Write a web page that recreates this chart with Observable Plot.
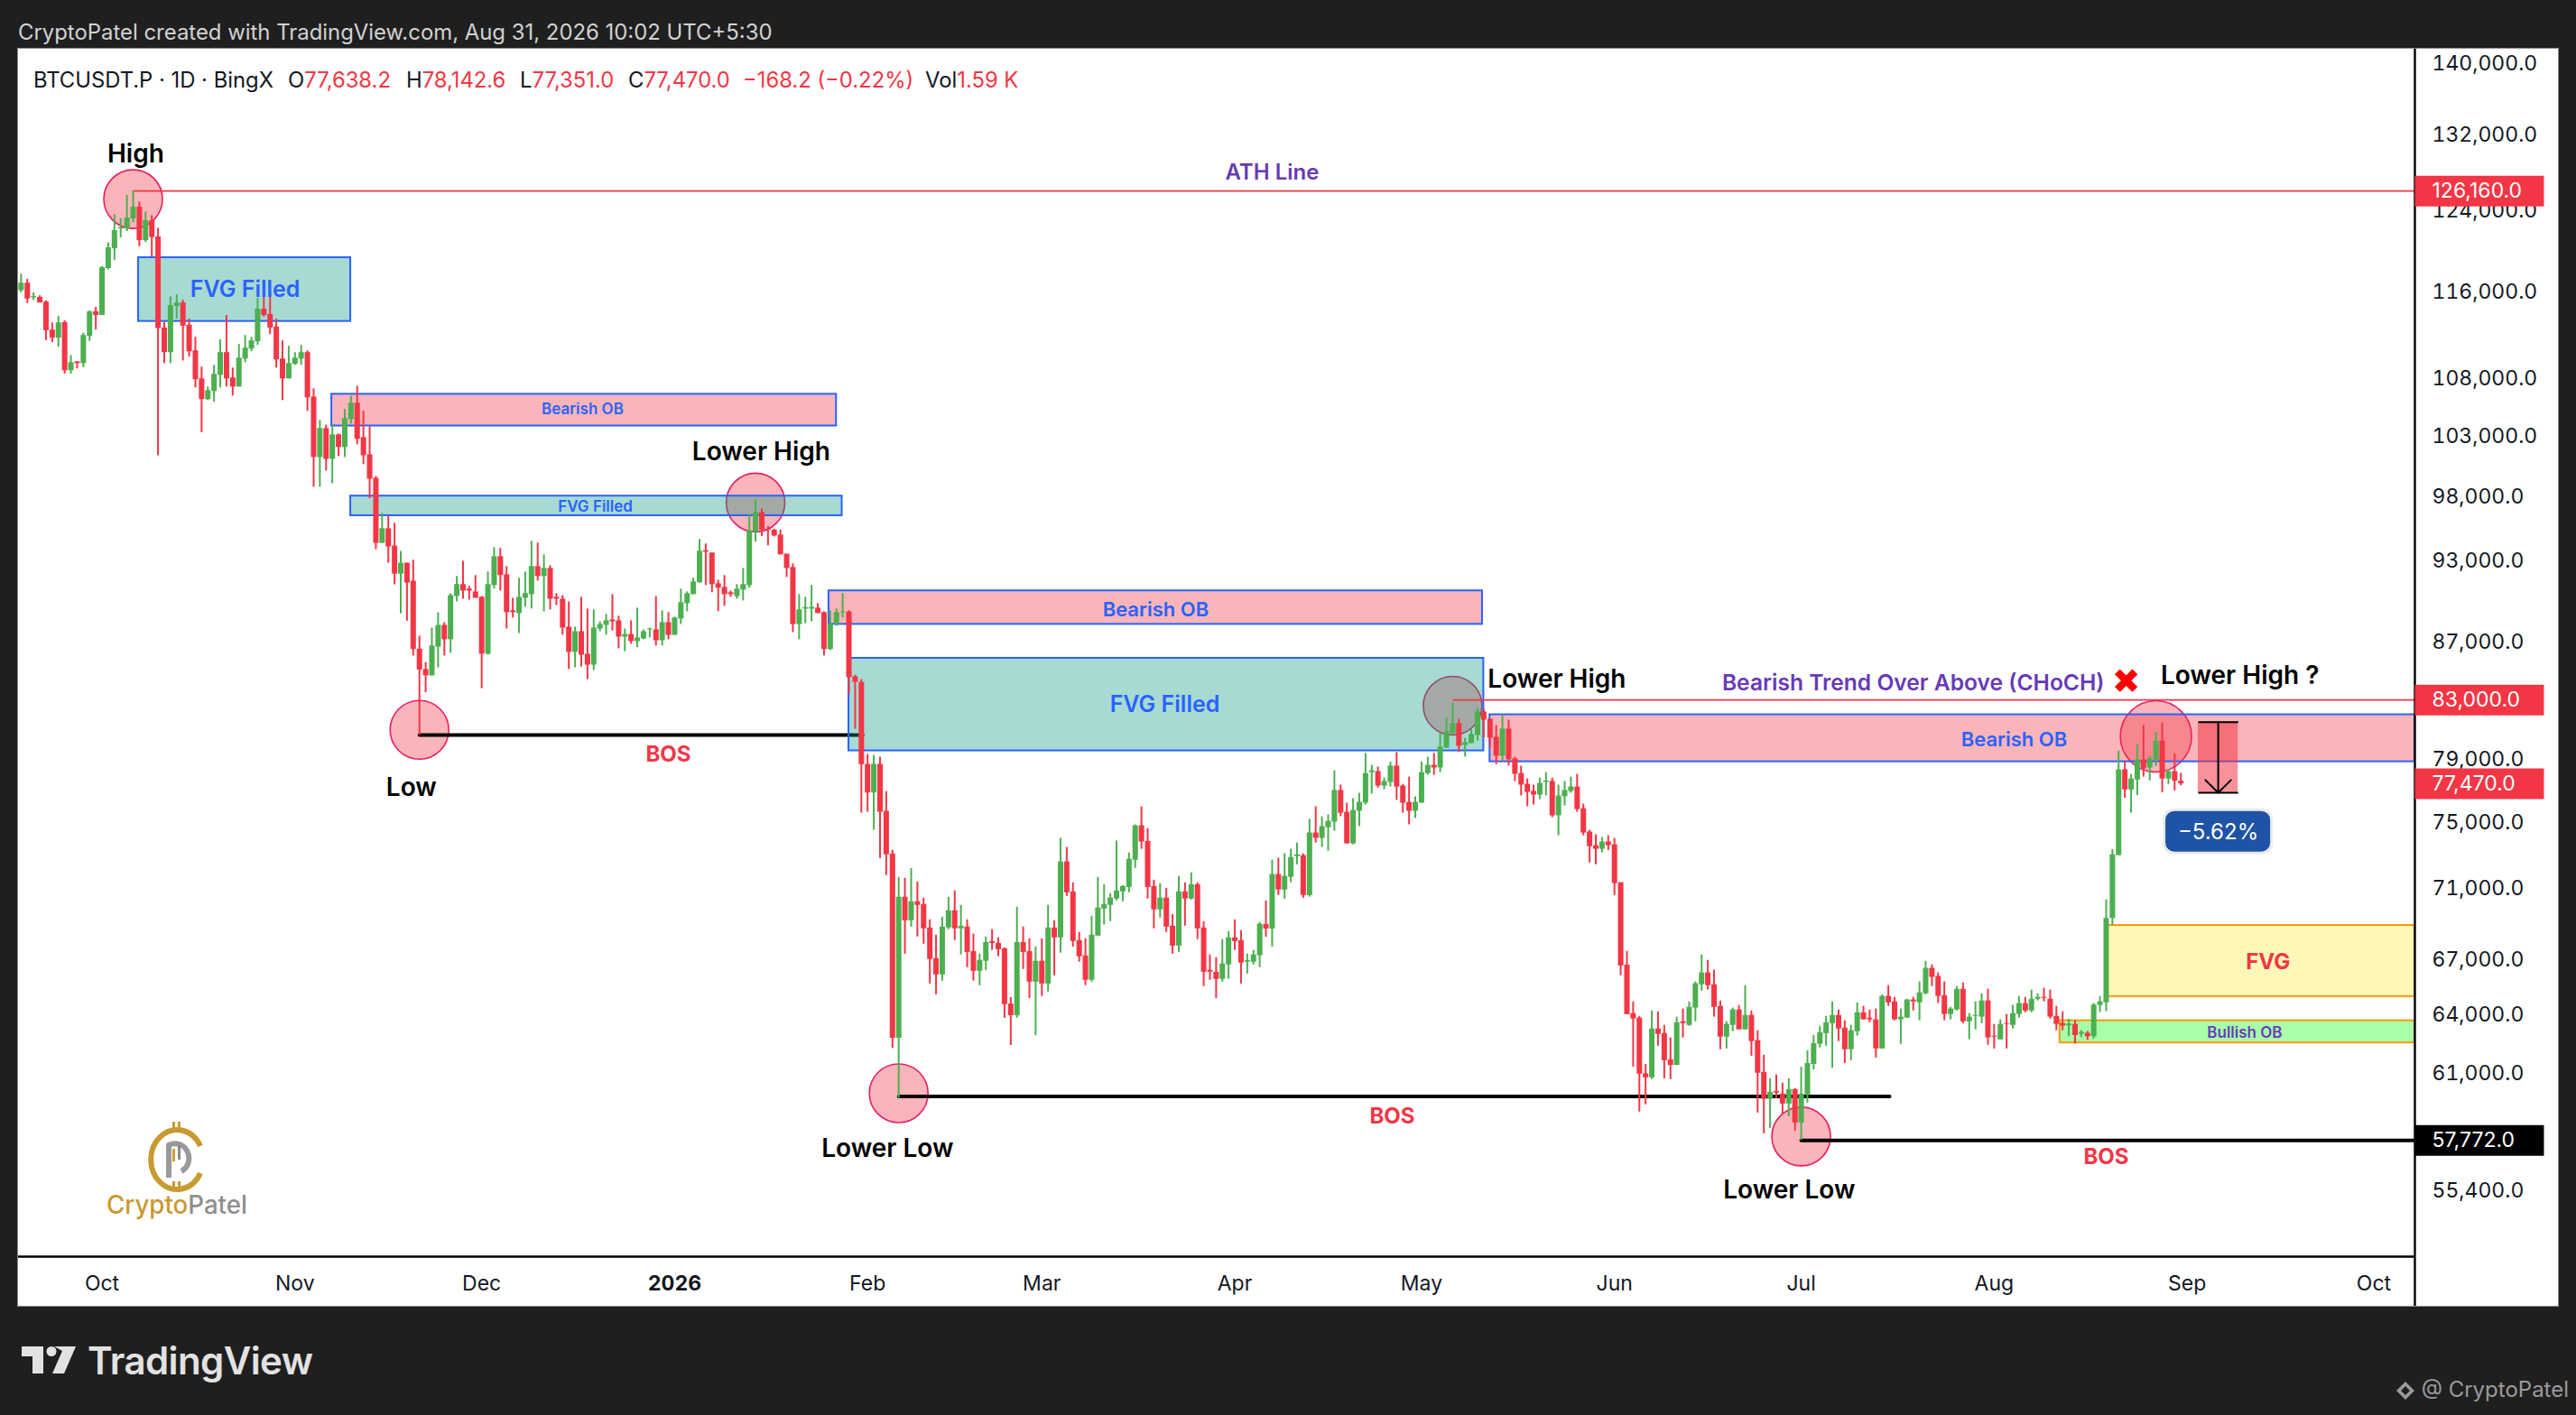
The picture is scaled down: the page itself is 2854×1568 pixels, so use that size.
<!DOCTYPE html>
<html><head><meta charset="utf-8">
<script src="https://cdn.jsdelivr.net/npm/d3@7"></script>
<script src="https://cdn.jsdelivr.net/npm/@observablehq/plot@0.6"></script>
<style>
html,body{margin:0;padding:0;background:#1f1f1f;}
body{width:2854px;height:1568px;position:relative;overflow:hidden;font-family:Inter,"Liberation Sans",sans-serif;}
#head{position:absolute;left:20px;top:21px;font-size:23.9px;line-height:30px;color:#d2d2d2;white-space:nowrap;}
#panel{position:absolute;left:20px;top:54px;width:2814px;height:1393px;background:#fff;box-shadow:0 0 0 1px #8c8c8c;}
#panel svg{display:block;}
.lg{position:absolute;top:21px;font-size:23.8px;line-height:28px;white-space:nowrap;color:#131722;}
.lg b{font-weight:400;color:#f23645;}
#mark{position:absolute;left:95px;top:1189px;}
#tv{position:absolute;left:24px;top:1485px;}
#tvt{position:absolute;left:97px;top:1483px;font-size:42px;line-height:50px;font-weight:600;color:#e2e2e2;letter-spacing:-.6px;}
#by{position:absolute;left:2654px;top:1525px;font-size:24px;line-height:30px;color:#9b9b9b;white-space:nowrap;}
</style></head><body>
<div id="head">CryptoPatel created with TradingView.com, Aug 31, 2026 10:02 UTC+5:30</div>
<div id="panel"></div>
<svg id="tv" width="62" height="42" viewBox="0 0 62 42"><path d="M0 7H24V37H12V18H0Z M36 7L51 7 60 7 47 37H34L45 12Z" fill="#e2e2e2"/><circle cx="33" cy="12.500" r="5.500" fill="#e2e2e2"/></svg>
<div id="tvt">TradingView</div>
<div id="by"><svg width="22" height="22" viewBox="0 0 22 22" style="vertical-align:-4px"><path d="M11 1L21 11 11 21 1 11Z M11 6L6 11 11 16 16 11Z" fill="#9b9b9b" fill-rule="evenodd"/></svg> @ CryptoPatel</div>
<script>
// Daily candles, BTCUSDT.P, in thousands of USD, first candle 18 Sep 2025, last 31 Aug 2026
const opens=[116.23,116.95,115.56,115.59,115.15,112.53,111.78,113.23,108.83,109.63,
109.47,111.95,114.23,113.89,118.37,120.32,122.30,122.30,123.30,124.50,
121.12,123.12,121.49,112.72,110.46,114.73,115.07,112.98,110.62,108.10,
106.27,106.98,108.42,110.46,108.18,107.38,109.88,110.79,111.45,114.48,
113.98,112.81,109.88,108.10,109.39,109.88,110.46,106.50,101.33,103.77,
101.18,103.23,102.17,104.54,105.96,103.00,101.55,99.61,94.42,95.56,
94.21,92.06,92.89,91.52,86.55,85.11,84.67,86.70,88.26,87.22,
90.38,91.27,90.93,90.72,90.32,86.19,91.20,93.39,92.01,89.32,
89.12,90.25,90.52,92.63,91.88,92.49,90.32,90.18,88.13,86.32,
87.80,86.19,85.42,87.99,88.26,88.65,88.59,87.41,87.60,87.09,
87.28,87.93,87.93,87.15,88.46,87.54,88.72,89.85,90.52,91.40,
93.86,93.67,91.33,91.06,90.66,90.38,90.86,91.20,95.27,96.85,
95.52,95.45,95.07,93.58,92.56,88.32,89.45,89.45,89.52,89.19,
86.53,88.32,89.19,89.23,84.60,84.22,78.72,76.89,78.72,75.74,
73.13,62.84,70.57,69.22,70.31,70.15,68.81,67.10,66.20,68.81,
69.79,68.76,68.86,67.49,66.40,66.95,68.04,67.94,67.64,64.64,
64.02,67.99,67.49,65.81,66.95,65.71,68.81,68.25,72.65,70.88,
68.10,67.25,65.91,68.35,69.89,70.10,70.47,70.88,71.14,72.75,
74.84,73.89,71.20,69.84,70.52,68.91,67.79,70.88,70.47,71.30,
68.81,66.45,66.35,65.96,66.75,68.25,68.10,66.90,66.90,67.25,
69.01,68.75,71.90,70.99,71.74,72.97,73.03,70.67,74.40,74.07,
74.73,75.07,77.05,75.68,73.74,75.74,76.25,78.19,78.25,77.33,
77.56,78.61,77.33,76.30,75.74,76.25,78.13,78.66,78.49,79.78,
80.74,81.40,79.96,80.08,80.62,82.19,81.70,80.50,79.25,81.04,
79.08,78.13,77.44,76.99,76.76,77.57,77.62,75.46,76.65,76.99,
77.27,75.90,74.46,73.63,73.41,73.85,73.68,71.42,66.74,64.13,
63.89,61.03,60.83,63.32,63.09,61.73,61.45,63.70,63.51,64.42,
65.67,66.31,65.67,64.51,62.90,63.51,64.32,63.28,64.03,62.72,
61.10,59.76,60.15,60.02,59.53,60.24,58.61,59.98,61.50,62.53,
63.08,63.60,64.03,63.37,62.25,63.18,64.17,63.89,63.80,62.29,
65.04,64.75,63.80,63.89,64.85,64.70,65.18,66.56,66.12,65.08,
64.08,64.32,65.42,63.70,63.98,63.94,64.80,62.95,62.76,63.60,
63.51,64.08,64.66,64.27,64.89,64.99,64.89,63.98,63.61,63.48,
63.56,63.05,63.10,62.92,64.56,64.70,69.35,73.03,78.37,77.08,
77.72,79.01,78.49,79.01,80.24,77.78,78.25,77.638];
const highs=[117.81,117.33,116.03,115.76,115.26,113.20,113.81,113.39,110.19,109.63,
112.25,114.31,114.65,118.55,120.91,123.73,123.33,125.71,126.16,125.02,
124.00,123.63,122.36,113.25,115.65,115.85,115.32,113.54,111.86,109.15,
107.38,109.31,111.62,113.89,109.07,111.20,112.03,111.86,115.49,116.25,
116.03,113.54,111.53,111.04,110.46,111.12,110.62,107.22,104.46,104.07,
104.07,103.31,105.41,106.58,107.45,105.25,103.92,99.76,96.77,96.55,
95.99,93.79,92.89,93.12,87.48,85.59,88.06,89.17,88.46,90.59,
91.88,93.04,91.13,91.95,90.38,92.22,94.09,94.02,92.63,90.25,
91.74,92.22,94.58,94.44,93.53,92.70,90.59,90.45,89.98,88.13,
90.32,89.45,89.39,88.52,89.05,90.52,88.92,87.99,88.59,89.52,
87.93,88.06,90.38,89.32,89.19,88.86,90.93,90.72,91.74,94.72,
94.37,93.67,91.60,91.95,90.79,91.27,92.49,96.71,97.86,97.13,
95.74,95.52,95.45,93.58,92.84,90.52,90.32,91.20,89.85,89.25,
89.32,89.45,90.59,89.32,84.71,84.40,79.37,79.31,79.19,76.98,
73.35,71.73,71.68,72.26,71.46,70.52,69.27,68.40,69.42,70.57,
70.94,70.10,69.27,68.46,67.35,68.30,68.71,68.25,67.69,64.98,
69.99,68.86,68.20,67.74,68.20,70.10,69.22,74.07,73.52,71.41,
68.56,68.20,69.48,71.73,71.30,70.78,73.91,71.25,73.19,74.90,
76.02,74.67,71.57,71.36,71.09,69.58,71.79,71.41,72.00,71.41,
69.17,67.30,67.15,68.15,68.61,69.27,68.66,67.35,67.55,69.12,
70.36,72.76,72.87,73.14,73.41,73.79,73.14,75.24,76.02,75.40,
75.52,78.31,77.39,76.25,76.53,76.87,79.43,78.66,78.55,77.84,
78.87,79.49,77.44,77.90,76.65,78.87,79.19,79.43,80.74,81.76,
82.80,81.70,80.44,81.04,82.43,82.37,81.70,81.28,82.00,81.64,
79.19,78.61,77.79,77.39,77.84,78.19,77.84,77.39,77.62,77.90,
78.08,76.19,74.57,74.29,74.12,74.23,74.07,71.42,67.49,64.75,
63.98,61.50,64.27,64.22,63.51,62.86,63.94,64.37,64.75,65.82,
67.30,67.00,66.46,64.80,63.70,64.42,64.56,65.62,64.27,63.23,
61.97,60.78,60.97,60.56,60.78,60.29,61.36,62.20,62.99,63.46,
63.98,64.75,64.32,63.75,63.51,64.70,64.51,64.32,64.37,65.13,
65.62,64.99,64.37,64.89,64.99,65.82,66.95,66.75,66.31,65.82,
64.46,65.57,65.77,64.13,64.75,65.18,65.43,63.56,63.80,64.08,
64.56,65.04,64.99,65.38,65.18,65.48,65.38,64.51,64.23,63.83,
63.75,63.24,63.20,64.66,65.03,70.42,73.40,79.59,78.89,78.07,
80.00,81.28,79.24,80.82,81.46,78.37,79.41,78.1426];
const lows=[116.03,115.01,115.29,115.07,111.56,111.37,110.95,108.53,108.53,108.99,
109.10,111.48,112.53,113.89,118.23,119.17,121.40,122.03,122.93,120.53,
120.94,119.52,101.48,109.47,109.47,113.56,109.71,110.05,107.30,103.41,
106.19,106.04,107.30,107.38,106.58,107.38,109.55,110.54,111.12,113.73,
112.11,109.07,106.19,108.10,109.31,109.31,105.25,98.88,98.88,100.21,
99.17,101.41,101.33,104.15,102.39,100.73,97.95,93.93,94.42,92.89,
91.25,89.10,88.57,86.06,80.64,83.50,84.65,85.23,86.06,86.25,
89.98,90.18,90.11,90.25,83.78,86.12,90.93,90.79,87.99,88.79,
87.67,89.59,89.45,91.54,89.25,89.39,89.72,87.54,85.11,85.23,
85.29,84.41,85.04,87.80,87.54,87.86,86.57,86.37,86.90,86.64,
87.22,87.35,86.77,86.77,87.22,87.54,88.32,89.25,90.52,91.40,
91.20,90.66,89.25,89.65,90.32,90.18,90.05,91.00,94.51,94.96,
94.23,94.92,93.53,91.81,87.73,87.22,88.39,88.52,89.12,86.06,
86.45,88.19,88.79,83.37,81.03,75.62,75.68,74.57,72.86,71.84,
62.33,59.82,67.34,68.86,68.30,67.90,65.71,65.13,65.86,68.71,
68.10,67.30,66.60,65.86,65.62,66.45,67.55,67.20,63.88,62.47,
63.88,66.50,64.93,62.98,65.04,65.28,66.15,67.40,70.62,67.74,
66.90,65.62,65.81,68.35,68.97,69.17,70.36,70.31,70.83,72.27,
73.41,70.47,68.76,69.37,68.56,67.34,67.44,68.91,70.41,68.15,
65.57,65.91,64.93,65.81,65.96,67.55,65.71,66.25,66.75,66.60,
68.29,67.74,70.67,70.46,71.42,72.48,70.51,70.57,73.79,73.52,
73.30,74.51,75.40,73.74,73.68,74.79,76.13,76.82,77.20,77.10,
77.27,76.42,75.62,74.90,75.30,76.25,78.02,78.02,78.19,79.78,
80.66,79.49,79.19,80.08,80.26,80.44,79.78,78.70,78.90,78.61,
77.61,76.70,76.02,76.13,76.47,76.70,75.35,74.23,76.07,76.87,
75.68,74.23,72.59,72.48,73.19,73.34,70.67,66.16,64.07,61.36,
59.14,59.49,60.74,62.43,60.78,60.74,61.45,62.86,63.46,63.70,
65.32,65.38,63.94,62.25,62.29,63.18,63.28,63.28,61.92,59.09,
58.09,58.35,59.80,59.00,58.91,58.22,57.77,59.58,61.22,62.34,
62.43,61.31,62.67,61.55,61.69,62.95,63.80,63.65,61.83,62.29,
64.51,63.75,62.53,63.89,64.27,63.75,65.13,65.57,64.66,63.75,
63.80,64.27,63.60,62.76,63.28,63.60,62.48,62.29,62.76,62.29,
63.32,63.89,64.17,64.17,64.80,64.75,63.84,63.23,63.24,62.92,
62.54,62.87,62.73,62.80,64.18,64.23,68.95,73.03,76.56,75.62,
76.73,77.90,77.66,78.60,76.90,77.43,77.02,77.351];
const closes=[116.95,115.44,115.68,115.07,112.47,111.78,113.20,108.83,109.55,109.47,
112.03,114.23,113.89,118.46,120.41,122.12,122.42,123.38,124.50,121.12,
123.12,121.43,112.67,110.46,114.81,115.07,112.89,110.54,108.02,106.27,
107.06,108.50,110.46,108.10,107.38,109.96,110.87,111.53,114.48,113.89,
112.72,109.80,108.10,109.47,109.96,110.46,106.43,101.33,103.77,101.18,
103.23,102.17,104.62,105.96,102.85,101.48,99.54,94.42,95.56,94.14,
92.06,92.89,91.38,86.53,85.07,84.67,86.77,88.26,87.22,90.45,
91.27,90.79,90.79,90.25,86.19,91.27,93.39,91.95,89.19,89.19,
90.32,90.59,92.63,91.88,92.49,90.18,90.18,88.06,86.32,87.80,
86.12,85.42,88.06,88.32,88.59,88.52,87.41,87.60,87.09,87.35,
87.80,87.99,87.15,88.46,87.54,88.79,89.92,90.59,91.47,93.81,
93.74,91.27,91.00,90.52,90.52,90.93,91.27,95.40,96.85,95.45,
95.45,95.00,93.53,92.49,88.32,89.39,89.56,89.58,89.12,86.53,
88.32,89.19,89.25,84.54,84.22,78.70,76.89,78.72,75.68,73.08,
62.84,70.57,69.22,70.31,70.10,68.76,67.05,66.20,68.86,69.79,
68.76,68.91,67.44,66.40,67.00,67.99,67.94,67.59,64.60,64.02,
67.99,67.44,65.81,66.95,65.71,68.81,68.25,72.65,70.83,68.05,
67.20,65.91,68.40,69.95,70.15,70.52,70.94,71.20,72.81,74.84,
73.85,71.14,69.84,70.52,68.86,67.79,70.88,70.47,71.30,68.76,
66.35,66.35,65.96,66.80,68.25,68.05,66.85,66.98,67.30,69.02,
68.75,71.90,70.99,71.79,72.92,73.08,70.67,74.40,74.07,74.79,
75.11,77.05,75.62,73.74,75.79,76.30,78.13,78.31,77.33,77.62,
78.61,77.27,76.25,75.74,76.30,78.19,78.66,78.49,79.84,80.86,
81.40,79.90,80.14,80.68,82.19,81.64,80.44,79.25,81.04,79.02,
78.08,77.39,76.93,76.76,77.50,77.65,75.46,76.70,77.05,77.27,
75.85,74.40,73.57,73.41,73.85,73.63,71.37,66.69,64.07,63.84,
61.01,60.83,63.32,63.04,61.69,61.45,63.65,63.60,64.46,65.72,
66.31,65.62,64.46,62.90,63.56,64.32,63.28,64.03,62.67,61.06,
59.76,60.11,60.07,59.53,60.24,58.61,60.02,61.55,62.56,63.13,
63.65,64.03,63.32,62.25,63.23,64.17,63.80,63.80,62.29,65.04,
64.70,63.80,63.94,64.85,64.75,65.23,66.56,66.07,65.04,64.08,
64.37,65.42,63.70,63.94,64.03,64.80,62.86,62.90,63.56,63.56,
64.13,64.66,64.27,64.89,64.99,64.94,63.94,63.56,63.47,63.58,
62.98,63.14,62.92,64.58,64.75,69.35,73.08,78.37,77.08,77.78,
79.01,78.43,79.07,80.24,77.78,78.25,77.64,77.47];

const axisPrices=[140000,132000,124000,116000,108000,103000,98000,93000,87000,79000,75000,71000,67000,64000,61000,58000,55400];
const monthTicks=["2025-10-01","2025-11-01","2025-12-01","2026-02-01","2026-03-01","2026-04-01","2026-05-01","2026-06-01","2026-07-01","2026-08-01","2026-09-01","2026-10-01"];
const yearTicks=["2026-01-01"];

const xStart="2025-09-17T14:00Z", xEnd="2026-10-07T14:24Z", yTop=141779, yBottom=52506, yPanelEnd=50404;

// from, to, upper price, lower price
const tealZones=[
 ["2025-10-06T21:00Z","2025-11-09T23:00Z",119430,113330],
 ["2025-11-09T23:00Z","2026-01-27T22:00Z",98160,96590],
 ["2026-01-29T00:00Z","2026-05-11T00:00Z",85900,79600]];
const pinkZones=[
 ["2025-11-06T22:00Z","2026-01-27T00:00Z",106740,103990],
 ["2026-01-25T19:00Z","2026-05-10T19:00Z",90800,88330],
 ["2026-05-12T00:00Z",xEnd,82000,78890]];
const yellowZones=[["2026-08-19T07:00Z",xEnd,68950,65030]];
const greenZones=[["2026-08-11T14:00Z",xEnd,63750,62600]];
const box=z=>({x1:new Date(z[0]),x2:new Date(z[1]),y1:z[2],y2:z[3]});

const swingCircles=[["2025-10-06",125330],["2025-11-21",80990],["2026-01-14",97640],["2026-02-06",60060],["2026-05-06",82610],["2026-07-01",57960]];
const lastCircle=[["2026-08-27",80550]];
const bosLines=[
 ["2025-11-21","2026-01-31T05:00Z",80640],
 ["2026-02-06","2026-07-15T05:00Z",59900],
 ["2026-07-01",xEnd,57772]];
const redLines=[["2025-10-06",xEnd,126160],["2026-05-06",xEnd,83000]];
const priceBadges=[[126160,"#f23645"],[83000,"#f23645"],[77470,"#f23645"],[57772,"#000000"]];

const blackLabels=[
 ["High","2025-10-06T10:00Z",130070],["Lower High","2026-01-14T22:00Z",101790],["Low","2025-11-19T17:00Z",77210],
 ["Lower High","2026-05-22T18:00Z",84410],["Lower Low","2026-02-04T05:00Z",57360],["Lower Low","2026-06-29T02:00Z",55430],
 ["Lower High ?","2026-09-09T12:00Z",84670]];
const redLabels=[["BOS","2025-12-31T00:00Z",79370],["BOS","2026-04-26T07:00Z",58910],["BOS","2026-08-19T00:00Z",56980],["FVG","2026-09-14T00:00Z",66900]];
const blueBig=[["FVG Filled","2025-10-24T00:00Z",116360,25],["FVG Filled","2026-03-20T18:00Z",82670,25],["Bearish OB","2026-03-19T07:00Z",89380,22],["Bearish OB","2026-08-04T05:00Z",80340,22],["Bearish OB","2025-12-17T05:00Z",105410,17],["FVG Filled","2025-12-19T06:00Z",97280,17]];
const purpleLabels=[["ATH Line","2026-04-07T00:00Z",128060,24],["Bearish Trend Over Above (CHoCH)","2026-07-19T00:00Z",84160,24.6],["Bullish OB","2026-09-10T06:00Z",63130,17]];

const measure={from:"2026-09-02T19:00Z",to:"2026-09-09T05:00Z",mid:"2026-09-06T00:00Z",top:81500,bottom:76900};
const changeBadge={from:"2026-08-28T14:00Z",to:"2026-09-14T10:00Z",top:75730,bottom:73240,mid:"2026-09-06T00:00Z",text:"−5.62%",at:74450};

const days=d3.utcDay.range(new Date("2025-09-18"),new Date("2026-09-01"));
const candles=days.map((date,i)=>({date,o:opens[i]*1000,h:highs[i]*1000,l:lows[i]*1000,c:closes[i]*1000}));
const ups=candles.filter(d=>d.c>=d.o), downs=candles.filter(d=>d.c<d.o);
const GREEN="#4caf50",RED="#f23645",BLUE="#2962ff",PURPLE="#673ab7",ORANGE="#ff9800";
const X=d=>new Date(d);
const font="Inter,'Liberation Sans',sans-serif";

const labelMark=(rows,fill,size,weight)=>Plot.text(rows,{x:d=>X(d[1]),y:d=>d[2],text:d=>d[0],fill,fontSize:size,fontWeight:weight});
const circleOpts={x:d=>X(d[0]),y:d=>d[1],fill:RED,fillOpacity:.37,stroke:"#e91e63",strokeWidth:1.6};

const chart=Plot.plot({
 width:2814,height:1393,marginLeft:0,marginTop:0,marginRight:159,marginBottom:55,
 style:{fontFamily:font,background:"#ffffff",overflow:"visible"},
 x:{type:"utc",domain:[X(xStart),X(xEnd)]},
 y:{type:"log",domain:[yBottom,yTop]},
 marks:[
  Plot.dot(swingCircles,{...circleOpts,r:32.5}),
  Plot.dot(lastCircle,{...circleOpts,r:39.5}),
  Plot.link(bosLines,{x1:d=>X(d[0]),x2:d=>X(d[1]),y1:d=>d[2],y2:d=>d[2],stroke:"#000",strokeWidth:4,strokeLinecap:"round"}),
  Plot.rect(tealZones.map(box),{x1:"x1",x2:"x2",y1:"y1",y2:"y2",fill:"#089981",fillOpacity:.36,stroke:BLUE,strokeWidth:2}),
  Plot.rect(pinkZones.map(box),{x1:"x1",x2:"x2",y1:"y1",y2:"y2",fill:RED,fillOpacity:.37,stroke:BLUE,strokeWidth:2}),
  Plot.rect(yellowZones.map(box),{x1:"x1",x2:"x2",y1:"y1",y2:"y2",fill:"#fff7b8",stroke:ORANGE,strokeWidth:2}),
  Plot.rect(greenZones.map(box),{x1:"x1",x2:"x2",y1:"y1",y2:"y2",fill:"#a9ffa9",stroke:ORANGE,strokeWidth:2}),
  Plot.link(redLines,{x1:d=>X(d[0]),x2:d=>X(d[1]),y1:d=>d[2],y2:d=>d[2],stroke:RED,strokeWidth:1.7}),
  Plot.rect([measure],{x1:d=>X(d.from),x2:d=>X(d.to),y1:"top",y2:"bottom",fill:RED,fillOpacity:.55}),
  Plot.link([measure.top,measure.bottom],{x1:()=>X(measure.from),x2:()=>X(measure.to),y1:d=>d,y2:d=>d,stroke:"#000",strokeWidth:2}),
  Plot.arrow([measure],{x1:d=>X(d.mid),x2:d=>X(d.mid),y1:"top",y2:"bottom",bend:0,headAngle:90,headLength:15,stroke:"#000",strokeWidth:2}),
  Plot.ruleX(ups,{x:"date",y1:"l",y2:"h",stroke:GREEN,strokeWidth:2}),
  Plot.ruleX(downs,{x:"date",y1:"l",y2:"h",stroke:RED,strokeWidth:2}),
  Plot.ruleX(ups,{x:"date",y1:"o",y2:"c",stroke:GREEN,strokeWidth:6}),
  Plot.ruleX(downs,{x:"date",y1:"o",y2:"c",stroke:RED,strokeWidth:6}),
  labelMark(blackLabels,"#000",28,600),
  labelMark(redLabels,RED,24,700),
  ...blueBig.map(r=>labelMark([r],BLUE,r[3],600)),
  ...purpleLabels.map(r=>labelMark([r],PURPLE,r[3],600)),
  Plot.text(["✖"],{x:()=>X("2026-08-22T05:00Z"),y:()=>84230,fill:"#ff0000",fontSize:38,fontFamily:"DejaVu Sans"}),
  Plot.rect([changeBadge],{x1:d=>X(d.from),x2:d=>X(d.to),y1:"top",y2:"bottom",inset:-3,rx:12,fill:"#000",fillOpacity:.08}),
  Plot.rect([changeBadge],{x1:d=>X(d.from),x2:d=>X(d.to),y1:"top",y2:"bottom",rx:10,fill:"#1e53a5"}),
  Plot.text([changeBadge],{x:d=>X(d.mid),y:"at",text:"text",fill:"#fff",fontSize:24}),
  Plot.ruleY([yBottom],{x1:X(xStart),x2:X(xEnd),stroke:"#000",strokeWidth:2.4}),
  Plot.ruleX([X(xEnd)],{y1:yTop,y2:yPanelEnd,stroke:"#000",strokeWidth:2.4}),
  Plot.axisY(axisPrices,{anchor:"right",tickSize:0,tickPadding:19,tickFormat:d3.format(",.1f"),fontSize:23,fill:"#131722",label:null,dy:-1}),
  Plot.axisX(monthTicks.map(X),{anchor:"bottom",tickSize:0,tickPadding:21,tickFormat:d3.utcFormat("%b"),fontSize:23,fill:"#131722",label:null}),
  Plot.axisX(yearTicks.map(X),{anchor:"bottom",tickSize:0,tickPadding:21,tickFormat:d3.utcFormat("%Y"),fontSize:23,fontWeight:700,fill:"#131722",label:null}),
  Plot.link(priceBadges,{x1:()=>X(xEnd),x2:()=>X("2026-10-28T08:00Z"),y1:d=>d[0],y2:d=>d[0],stroke:d=>d[1],strokeWidth:34}),
  Plot.text(priceBadges,{x:()=>X(xEnd),y:d=>d[0],text:d=>d3.format(",.1f")(d[0]),dx:19,textAnchor:"start",fill:"#fff",fontSize:23})
 ]
});
const panel=document.getElementById("panel");
panel.appendChild(chart);

// OHLC legend, inside the chart panel
const legend=[
 [17,"BTCUSDT.P · 1D · BingX"],[299,"O<b>77,638.2</b>"],[430,"H<b>78,142.6</b>"],[556,"L<b>77,351.0</b>"],
 [676,"C<b>77,470.0</b>"],[803,"<b>−168.2 (−0.22%)</b>"],[1005,"Vol<b>1.59 K</b>"]];
for(const [left,html] of legend){const s=document.createElement("div");s.className="lg";s.style.left=left+"px";s.innerHTML=html;panel.appendChild(s);}

// CryptoPatel watermark
const mark=document.createElementNS("http://www.w3.org/2000/svg","svg");
mark.setAttribute("id","mark");mark.setAttribute("width","170");mark.setAttribute("height","110");mark.setAttribute("viewBox","0 0 170 110");
mark.innerHTML=`<g fill="none" stroke-width="6">
<path d="M107 28A29 33 0 1 0 107 58" stroke="#c99a30" transform="translate(0,-1)"/>
<path d="M72 62V26A15 16 0 1 1 86 55" stroke="#9a9a9a"/></g>
<rect x="76" y="0" width="3" height="8" fill="#c99a30"/><rect x="82" y="0" width="3" height="8" fill="#c99a30"/>
<rect x="76" y="66" width="3" height="8" fill="#c99a30"/><rect x="82" y="66" width="3" height="8" fill="#c99a30"/>
<rect x="76" y="30" width="3" height="14" fill="#d59a3a"/><rect x="82" y="26" width="3" height="16" fill="#8a8a8a"/>
<text x="81" y="102" text-anchor="middle" textLength="156" lengthAdjust="spacingAndGlyphs" font-family="Inter,sans-serif" font-size="28" font-weight="500"><tspan fill="#c99a30">Crypto</tspan><tspan fill="#8f8f8f">Patel</tspan></text>`;
panel.appendChild(mark);
</script>
</body></html>
